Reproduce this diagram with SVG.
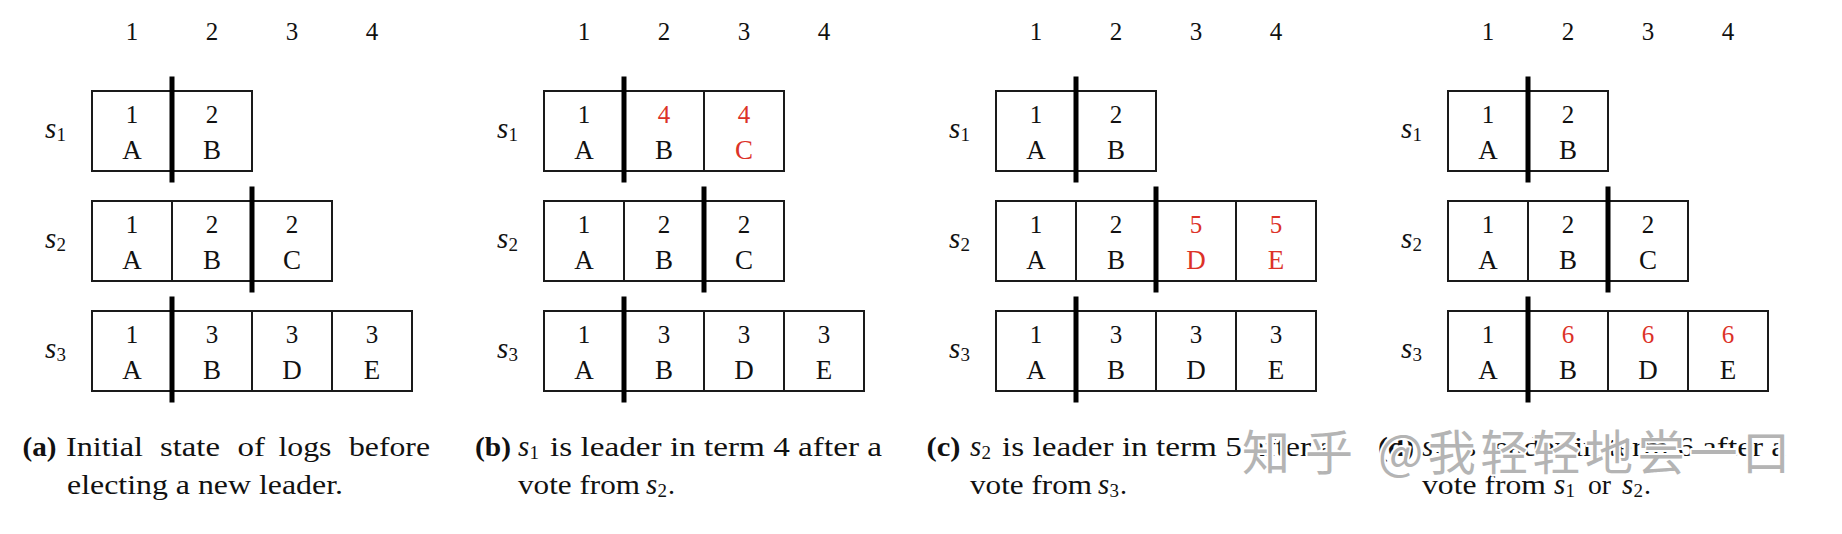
<svg xmlns="http://www.w3.org/2000/svg" width="1842" height="534" viewBox="0 0 1842 534">
<style>
.bg{fill:#fff}
.box{fill:none;stroke:#1a1a1a;stroke-width:2}
.bar{fill:#000}
.num{font-family:"Liberation Serif",serif;font-size:25px;text-anchor:middle;fill:#111}
.let{font-family:"Liberation Serif",serif;font-size:27px;text-anchor:middle;fill:#111}
.red{fill:#dc3228}
.lab{font-family:"Liberation Serif",serif;font-style:italic;font-size:29px;fill:#111}
.sub{font-family:"Liberation Serif",serif;font-size:19px;fill:#111}
.cap{font-family:"Liberation Serif",serif;font-size:28px;fill:#111}
.capb{font-family:"Liberation Serif",serif;font-size:28px;font-weight:bold;fill:#111}
.wm{font-family:"Noto Sans CJK SC","Noto Sans",sans-serif;font-size:48px;fill:#b4b4b4;stroke:#fff;stroke-width:4;paint-order:stroke;stroke-linejoin:round}
</style>
<defs>
<g id="headers">
<text class="num" x="132" y="40">1</text>
<text class="num" x="212" y="40">2</text>
<text class="num" x="292" y="40">3</text>
<text class="num" x="372" y="40">4</text>
</g>
<g id="labels">
<text class="lab" x="45" y="138">s</text><text class="sub" x="56.5" y="141">1</text>
<text class="lab" x="45" y="248">s</text><text class="sub" x="56.5" y="251">2</text>
<text class="lab" x="45" y="358">s</text><text class="sub" x="56.5" y="361">3</text>
</g>
</defs>
<rect class="bg" x="0" y="0" width="1842" height="534"/>

<!-- Panel (a) -->
<g id="panel-a">
<use href="#headers"/>
<use href="#labels"/>
<g id="a-s1">
<rect class="box" x="92" y="91" width="160" height="80"/>
<line class="box" x1="172" y1="91" x2="172" y2="171"/>
<text class="num" x="132" y="123">1</text><text class="let" x="132" y="159">A</text>
<text class="num" x="212" y="123">2</text><text class="let" x="212" y="159">B</text>
</g>
<g id="a-s2">
<rect class="box" x="92" y="201" width="240" height="80"/>
<line class="box" x1="172" y1="201" x2="172" y2="281"/>
<line class="box" x1="252" y1="201" x2="252" y2="281"/>
<text class="num" x="132" y="233">1</text><text class="let" x="132" y="269">A</text>
<text class="num" x="212" y="233">2</text><text class="let" x="212" y="269">B</text>
<text class="num" x="292" y="233">2</text><text class="let" x="292" y="269">C</text>
</g>
<g id="a-s3">
<rect class="box" x="92" y="311" width="320" height="80"/>
<line class="box" x1="172" y1="311" x2="172" y2="391"/>
<line class="box" x1="252" y1="311" x2="252" y2="391"/>
<line class="box" x1="332" y1="311" x2="332" y2="391"/>
<text class="num" x="132" y="343">1</text><text class="let" x="132" y="379">A</text>
<text class="num" x="212" y="343">3</text><text class="let" x="212" y="379">B</text>
<text class="num" x="292" y="343">3</text><text class="let" x="292" y="379">D</text>
<text class="num" x="372" y="343">3</text><text class="let" x="372" y="379">E</text>
</g>
<g id="a-caption">
<text class="capb" x="22.5" y="456" textLength="34" lengthAdjust="spacingAndGlyphs">(a)</text>
<text class="cap" x="66" y="456" textLength="77" lengthAdjust="spacingAndGlyphs">Initial</text>
<text class="cap" x="160" y="456" textLength="60" lengthAdjust="spacingAndGlyphs">state</text>
<text class="cap" x="237.5" y="456" textLength="27.5" lengthAdjust="spacingAndGlyphs">of</text>
<text class="cap" x="278.5" y="456" textLength="53" lengthAdjust="spacingAndGlyphs">logs</text>
<text class="cap" x="349" y="456" textLength="81" lengthAdjust="spacingAndGlyphs">before</text>
<text class="cap" x="67" y="494" textLength="276" lengthAdjust="spacingAndGlyphs">electing a new leader.</text>
</g>
</g>

<!-- Panel (b) -->
<g id="panel-b" transform="translate(452,0)">
<use href="#headers"/>
<use href="#labels"/>
<g id="b-s1">
<rect class="box" x="92" y="91" width="240" height="80"/>
<line class="box" x1="172" y1="91" x2="172" y2="171"/>
<line class="box" x1="252" y1="91" x2="252" y2="171"/>
<text class="num" x="132" y="123">1</text><text class="let" x="132" y="159">A</text>
<text class="num red" x="212" y="123">4</text><text class="let" x="212" y="159">B</text>
<text class="num red" x="292" y="123">4</text><text class="let red" x="292" y="159">C</text>
</g>
<g id="b-s2">
<rect class="box" x="92" y="201" width="240" height="80"/>
<line class="box" x1="172" y1="201" x2="172" y2="281"/>
<line class="box" x1="252" y1="201" x2="252" y2="281"/>
<text class="num" x="132" y="233">1</text><text class="let" x="132" y="269">A</text>
<text class="num" x="212" y="233">2</text><text class="let" x="212" y="269">B</text>
<text class="num" x="292" y="233">2</text><text class="let" x="292" y="269">C</text>
</g>
<g id="b-s3">
<rect class="box" x="92" y="311" width="320" height="80"/>
<line class="box" x1="172" y1="311" x2="172" y2="391"/>
<line class="box" x1="252" y1="311" x2="252" y2="391"/>
<line class="box" x1="332" y1="311" x2="332" y2="391"/>
<text class="num" x="132" y="343">1</text><text class="let" x="132" y="379">A</text>
<text class="num" x="212" y="343">3</text><text class="let" x="212" y="379">B</text>
<text class="num" x="292" y="343">3</text><text class="let" x="292" y="379">D</text>
<text class="num" x="372" y="343">3</text><text class="let" x="372" y="379">E</text>
</g>
<g id="b-caption">
<text class="capb" x="23" y="456" textLength="36" lengthAdjust="spacingAndGlyphs">(b)</text>
<text class="lab" x="66" y="456">s</text><text class="sub" x="77.5" y="459">1</text>
<text class="cap" x="98" y="456" textLength="332" lengthAdjust="spacingAndGlyphs">is leader in term 4 after a</text>
<text class="cap" x="66" y="494" textLength="122" lengthAdjust="spacingAndGlyphs">vote from</text>
<text class="lab" x="194" y="494">s</text><text class="sub" x="205.5" y="497">2</text>
<text class="cap" x="216" y="494">.</text>
</g>
</g>

<!-- Panel (c) -->
<g id="panel-c" transform="translate(904,0)">
<use href="#headers"/>
<use href="#labels"/>
<g id="c-s1">
<rect class="box" x="92" y="91" width="160" height="80"/>
<line class="box" x1="172" y1="91" x2="172" y2="171"/>
<text class="num" x="132" y="123">1</text><text class="let" x="132" y="159">A</text>
<text class="num" x="212" y="123">2</text><text class="let" x="212" y="159">B</text>
</g>
<g id="c-s2">
<rect class="box" x="92" y="201" width="320" height="80"/>
<line class="box" x1="172" y1="201" x2="172" y2="281"/>
<line class="box" x1="252" y1="201" x2="252" y2="281"/>
<line class="box" x1="332" y1="201" x2="332" y2="281"/>
<text class="num" x="132" y="233">1</text><text class="let" x="132" y="269">A</text>
<text class="num" x="212" y="233">2</text><text class="let" x="212" y="269">B</text>
<text class="num red" x="292" y="233">5</text><text class="let red" x="292" y="269">D</text>
<text class="num red" x="372" y="233">5</text><text class="let red" x="372" y="269">E</text>
</g>
<g id="c-s3">
<rect class="box" x="92" y="311" width="320" height="80"/>
<line class="box" x1="172" y1="311" x2="172" y2="391"/>
<line class="box" x1="252" y1="311" x2="252" y2="391"/>
<line class="box" x1="332" y1="311" x2="332" y2="391"/>
<text class="num" x="132" y="343">1</text><text class="let" x="132" y="379">A</text>
<text class="num" x="212" y="343">3</text><text class="let" x="212" y="379">B</text>
<text class="num" x="292" y="343">3</text><text class="let" x="292" y="379">D</text>
<text class="num" x="372" y="343">3</text><text class="let" x="372" y="379">E</text>
</g>
<g id="c-caption">
<text class="capb" x="22.5" y="456" textLength="34" lengthAdjust="spacingAndGlyphs">(c)</text>
<text class="lab" x="66" y="456">s</text><text class="sub" x="77.5" y="459">2</text>
<text class="cap" x="98" y="456" textLength="332" lengthAdjust="spacingAndGlyphs">is leader in term 5 after a</text>
<text class="cap" x="66" y="494" textLength="122" lengthAdjust="spacingAndGlyphs">vote from</text>
<text class="lab" x="194" y="494">s</text><text class="sub" x="205.5" y="497">3</text>
<text class="cap" x="216" y="494">.</text>
</g>
</g>

<!-- Panel (d) -->
<g id="panel-d" transform="translate(1356,0)">
<use href="#headers"/>
<use href="#labels"/>
<g id="d-s1">
<rect class="box" x="92" y="91" width="160" height="80"/>
<line class="box" x1="172" y1="91" x2="172" y2="171"/>
<text class="num" x="132" y="123">1</text><text class="let" x="132" y="159">A</text>
<text class="num" x="212" y="123">2</text><text class="let" x="212" y="159">B</text>
</g>
<g id="d-s2">
<rect class="box" x="92" y="201" width="240" height="80"/>
<line class="box" x1="172" y1="201" x2="172" y2="281"/>
<line class="box" x1="252" y1="201" x2="252" y2="281"/>
<text class="num" x="132" y="233">1</text><text class="let" x="132" y="269">A</text>
<text class="num" x="212" y="233">2</text><text class="let" x="212" y="269">B</text>
<text class="num" x="292" y="233">2</text><text class="let" x="292" y="269">C</text>
</g>
<g id="d-s3">
<rect class="box" x="92" y="311" width="320" height="80"/>
<line class="box" x1="172" y1="311" x2="172" y2="391"/>
<line class="box" x1="252" y1="311" x2="252" y2="391"/>
<line class="box" x1="332" y1="311" x2="332" y2="391"/>
<text class="num" x="132" y="343">1</text><text class="let" x="132" y="379">A</text>
<text class="num red" x="212" y="343">6</text><text class="let" x="212" y="379">B</text>
<text class="num red" x="292" y="343">6</text><text class="let" x="292" y="379">D</text>
<text class="num red" x="372" y="343">6</text><text class="let" x="372" y="379">E</text>
</g>
<g id="d-caption">
<text class="capb" x="22" y="456" textLength="36" lengthAdjust="spacingAndGlyphs">(d)</text>
<text class="lab" x="66" y="456">s</text><text class="sub" x="77.5" y="459">3</text>
<text class="cap" x="98" y="456" textLength="332" lengthAdjust="spacingAndGlyphs">is leader in term 6 after a</text>
<text class="cap" x="66" y="494" textLength="124" lengthAdjust="spacingAndGlyphs">vote from</text>
<text class="lab" x="198" y="494">s</text><text class="sub" x="209.5" y="497">1</text>
<text class="cap" x="232" y="494" textLength="23" lengthAdjust="spacingAndGlyphs">or</text>
<text class="lab" x="266" y="494">s</text><text class="sub" x="277.5" y="497">2</text>
<text class="cap" x="288" y="494">.</text>
</g>
</g>

<!-- commit markers (thick vertical bars) -->
<g id="connectors">
<rect class="bar" x="169.5" y="76.5" width="5" height="106"/>
<rect class="bar" x="249.5" y="186.5" width="5" height="106"/>
<rect class="bar" x="169.5" y="296.5" width="5" height="106"/>
<rect class="bar" x="621.5" y="76.5" width="5" height="106"/>
<rect class="bar" x="701.5" y="186.5" width="5" height="106"/>
<rect class="bar" x="621.5" y="296.5" width="5" height="106"/>
<rect class="bar" x="1073.5" y="76.5" width="5" height="106"/>
<rect class="bar" x="1153.5" y="186.5" width="5" height="106"/>
<rect class="bar" x="1073.5" y="296.5" width="5" height="106"/>
<rect class="bar" x="1525.5" y="76.5" width="5" height="106"/>
<rect class="bar" x="1605.5" y="186.5" width="5" height="106"/>
<rect class="bar" x="1525.5" y="296.5" width="5" height="106"/>
</g>

<g id="watermark">
<text class="wm" x="1242" y="470" textLength="111" lengthAdjust="spacing">知乎</text>
<text class="wm" x="1378" y="470" textLength="412" lengthAdjust="spacing">@我轻轻地尝一口</text>
</g>
</svg>
